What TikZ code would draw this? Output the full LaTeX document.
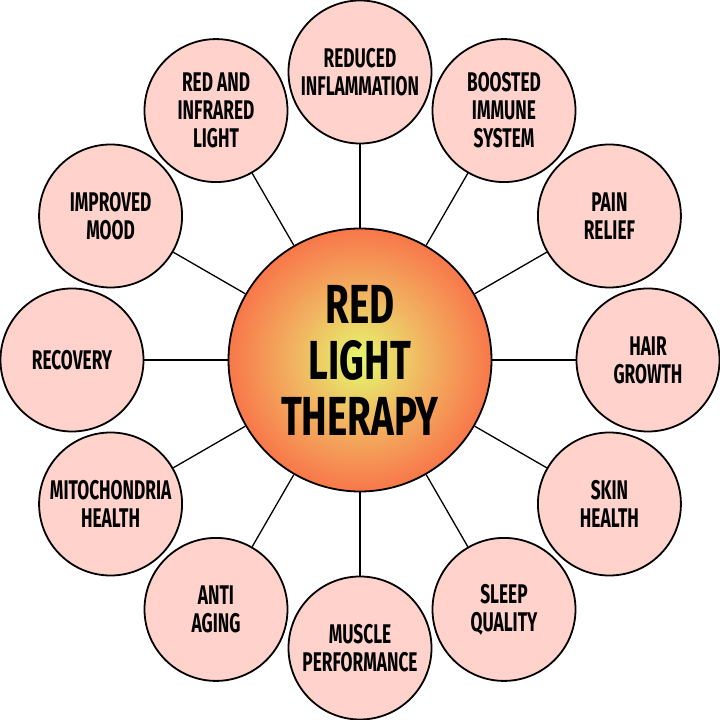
\documentclass[tikz,border=0pt]{standalone}
\usepackage{fontspec}
\newfontfamily\lblfont[FakeStretch=0.64]{Fira Sans}
\newfontfamily\hubfont[FakeStretch=0.7]{Fira Sans}
\definecolor{petal}{HTML}{FFD3CC}
\definecolor{cin}{HTML}{E4F96C}
\definecolor{cmid}{HTML}{F1B662}
\definecolor{cout}{HTML}{F8774A}
\pgfdeclareradialshading{rlt}{\pgfpoint{0bp}{0bp}}{color(0bp)=(cin); color(12bp)=(cmid); color(25bp)=(cout); color(50bp)=(cout)}
\begin{document}
\begin{tikzpicture}[x=1pt,y=1pt]
\tikzset{
  outer/.style={circle, draw=black, line width=1.8pt, fill=petal, minimum size=143pt, inner sep=0pt, align=center, font=\lblfont\bfseries\fontsize{27}{28}\selectfont},
  hub/.style={circle, draw=black, line width=1.8pt, minimum size=263pt, inner sep=0pt, shading=rlt, align=center, font=\hubfont\bfseries\fontsize{55}{56}\selectfont},
  spoke/.style={line width=1.3pt, draw=black}
}
\useasboundingbox (0,0) rectangle (720,720);
\node[hub] (c) at (360,360) {RED\\LIGHT\\THERAPY};
\foreach \a/\n/\t in {
  90/n1/{REDUCED\\INFLAMMATION},
  60/n2/{BOOSTED\\IMMUNE\\SYSTEM},
  30/n3/{PAIN\\RELIEF},
  0/n4/{HAIR\\GROWTH},
  -30/n5/{SKIN\\HEALTH},
  -60/n6/{SLEEP\\QUALITY},
  -90/n7/{MUSCLE\\PERFORMANCE},
  -120/n8/{ANTI\\AGING},
  -150/n9/{MITOCHONDRIA\\HEALTH},
  180/n10/{RECOVERY},
  150/n11/{IMPROVED\\MOOD},
  120/n12/{RED AND\\INFRARED\\LIGHT}}{
  \node[outer] (\n) at ([shift={(\a:288)}]c) {\t};
  \draw[spoke] (c) -- (\n);
}
\end{tikzpicture}
\end{document}
